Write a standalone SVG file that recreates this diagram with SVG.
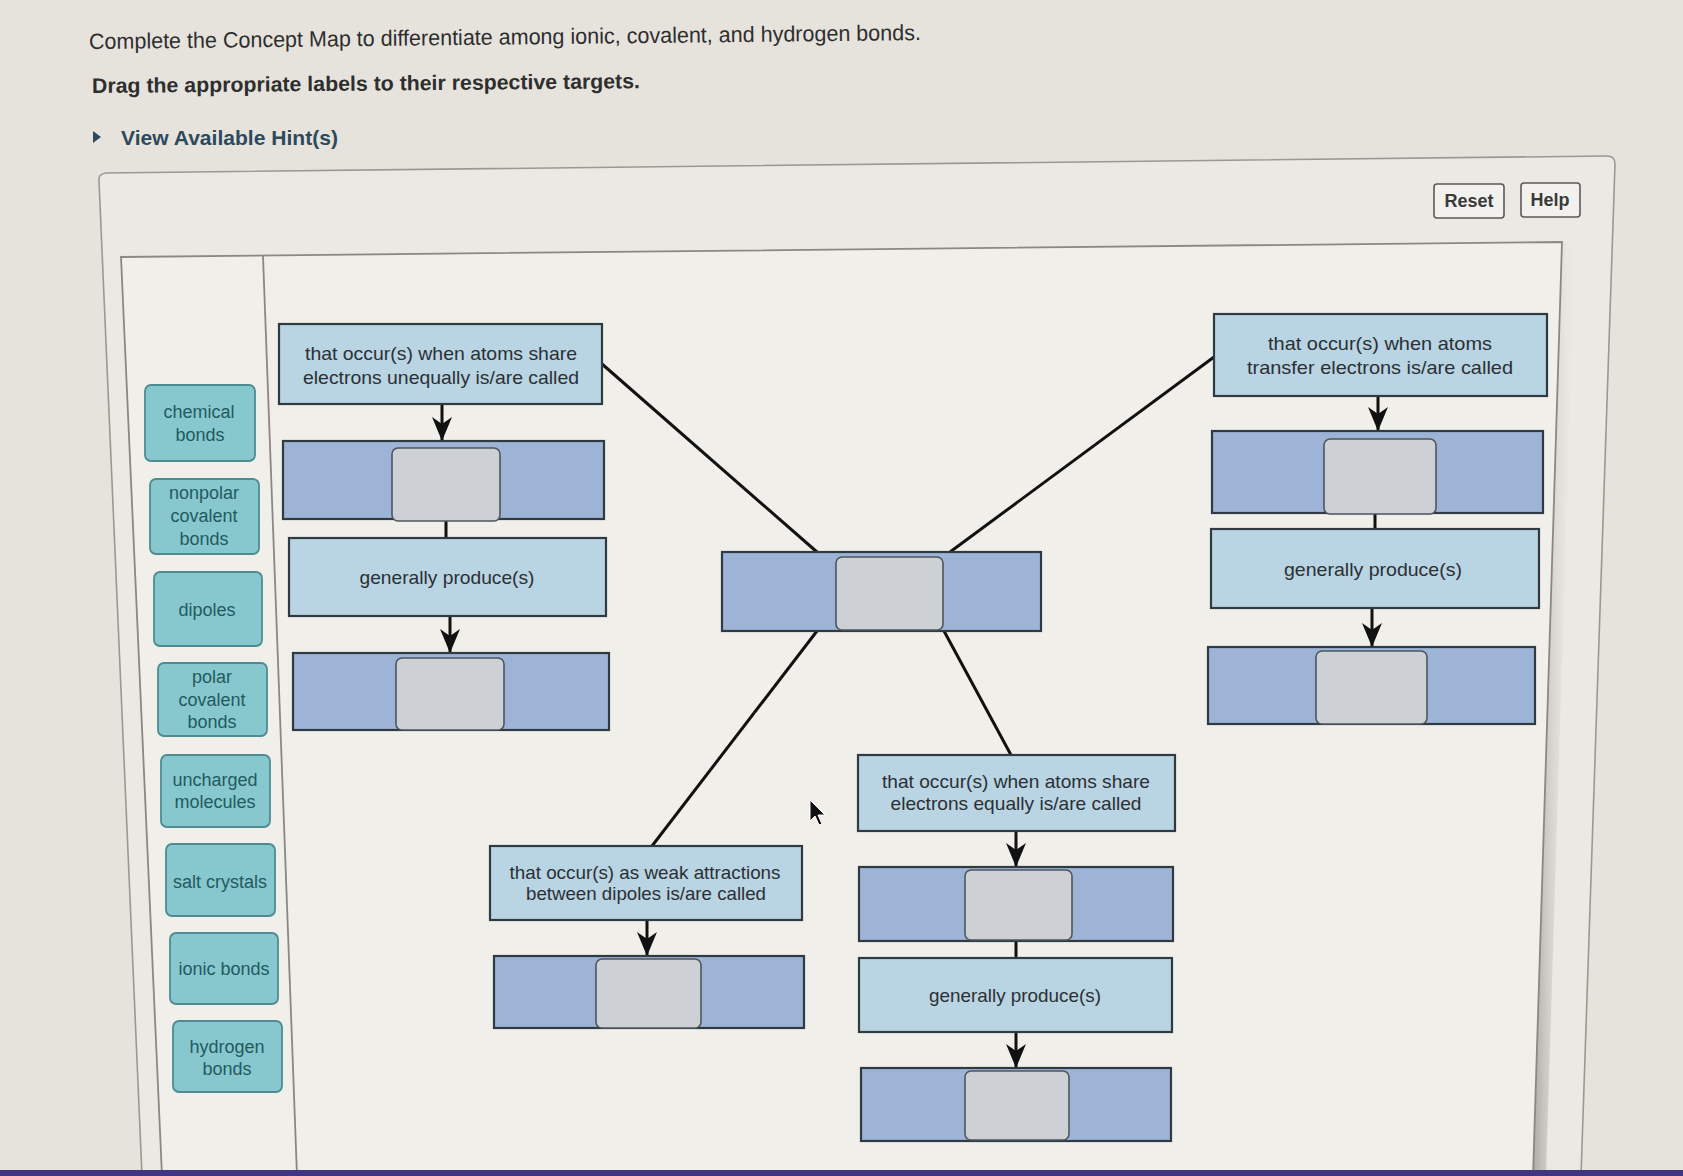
<svg xmlns="http://www.w3.org/2000/svg" width="1683" height="1176" viewBox="0 0 1683 1176">
<style>
.bg{fill:#e6e3dd}
.frame{fill:none;stroke:#8e8c87;stroke-width:1.6}
.q{fill:#b9d4e2;stroke:#2f3a42;stroke-width:2.2}
.a{fill:#9db4d7;stroke:#2f3a42;stroke-width:2.2}
.g{fill:#cdd0d4;stroke:#4e555d;stroke-width:1.6}
.lab{fill:#86c8cd;stroke:#4d8c91;stroke-width:1.8}
.t{font-family:"Liberation Sans",Arial,sans-serif;font-size:19px;fill:#2b3035;text-anchor:middle}
.lt{font-family:"Liberation Sans",Arial,sans-serif;font-size:18px;fill:#235a60;text-anchor:middle}
.con{stroke:#111;stroke-width:3;fill:none}
.btn{fill:#f2f1ed;stroke:#5a5a5a;stroke-width:1.6}
.bt{font-family:"Liberation Sans",Arial,sans-serif;font-size:18px;font-weight:bold;fill:#3a3a3a;text-anchor:middle}
</style>
<defs>
<marker id="arr" viewBox="0 0 24 20" refX="24" refY="10" markerWidth="24" markerHeight="20" markerUnits="userSpaceOnUse" orient="auto">
<path d="M0,0 L24,10 L0,20 L7,10 z" fill="#111"/>
</marker>
<linearGradient id="sh" x1="0" y1="0" x2="1" y2="0">
<stop offset="0" stop-color="#9c9a95" stop-opacity="0.8"/>
<stop offset="1" stop-color="#e6e3dd" stop-opacity="0"/>
</linearGradient>
</defs>
<rect class="bg" x="0" y="0" width="1683" height="1176"/>

<g id="header">
<text x="89" y="49" transform="rotate(-0.62 89 49)" font-family="'Liberation Sans',Arial,sans-serif" font-size="22" fill="#2e2e2e" textLength="832" lengthAdjust="spacingAndGlyphs">Complete the Concept Map to differentiate among ionic, covalent, and hydrogen bonds.</text>
<text x="92" y="93" transform="rotate(-0.5 92 93)" font-family="'Liberation Sans',Arial,sans-serif" font-size="21" font-weight="bold" fill="#2e2e2e" textLength="548" lengthAdjust="spacingAndGlyphs">Drag the appropriate labels to their respective targets.</text>
<polygon points="93,131 101,137 93,143" fill="#2d4a5c"/>
<text x="121" y="145" font-family="'Liberation Sans',Arial,sans-serif" font-size="21" font-weight="bold" fill="#2d4a5c" textLength="217" lengthAdjust="spacingAndGlyphs">View Available Hint(s)</text>
</g>

<g id="frames">
<path d="M142,1176 L99,181 Q98,174 106,173 L1607,156 Q1615,156 1615,164 L1581,1176 Z" fill="#ebe9e4" stroke="#9a9893" stroke-width="1.6"/>
<polygon points="1562,242 1575,244 1546,1176 1533,1176" fill="url(#sh)"/>
<path d="M162,1176 L121,257 L1562,242 L1533,1176 Z" fill="#f1efea" stroke="#8a8884" stroke-width="1.8"/>
<line x1="263" y1="256" x2="297" y2="1176" stroke="#8a8884" stroke-width="1.8"/>
<rect x="0" y="1170" width="1683" height="6" fill="#3f3584"/>
</g>

<g id="buttons">
<rect class="btn" x="1434" y="184" width="70" height="34" rx="3"/>
<text class="bt" x="1469" y="207">Reset</text>
<rect class="btn" x="1521" y="183" width="59" height="34" rx="3"/>
<text class="bt" x="1550" y="206">Help</text>
</g>

<g id="connectors">
<line class="con" x1="602" y1="364" x2="817" y2="552"/>
<line class="con" x1="1214" y1="357" x2="950" y2="552"/>
<line class="con" x1="817" y1="631" x2="652" y2="846"/>
<line class="con" x1="944" y1="631" x2="1011" y2="755"/>
<line class="con" x1="442" y1="404" x2="442" y2="441" marker-end="url(#arr)"/>
<line class="con" x1="446" y1="521" x2="446" y2="538"/>
<line class="con" x1="450" y1="616" x2="450" y2="653" marker-end="url(#arr)"/>
<line class="con" x1="1378" y1="396" x2="1378" y2="431" marker-end="url(#arr)"/>
<line class="con" x1="1375" y1="513" x2="1375" y2="529"/>
<line class="con" x1="1372" y1="608" x2="1372" y2="647" marker-end="url(#arr)"/>
<line class="con" x1="647" y1="920" x2="647" y2="956" marker-end="url(#arr)"/>
<line class="con" x1="1016" y1="831" x2="1016" y2="867" marker-end="url(#arr)"/>
<line class="con" x1="1016" y1="941" x2="1016" y2="958"/>
<line class="con" x1="1016" y1="1032" x2="1016" y2="1068" marker-end="url(#arr)"/>
</g>

<g id="node-unequal">
<rect class="q" x="279" y="324" width="323" height="80"/>
<text class="t" x="441" y="360" textLength="272" lengthAdjust="spacingAndGlyphs">that occur(s) when atoms share</text>
<text class="t" x="441" y="384" textLength="276" lengthAdjust="spacingAndGlyphs">electrons unequally is/are called</text>
</g>
<g id="target-unequal-1">
<rect class="a" x="283" y="441" width="321" height="78"/>
<rect class="g" x="392" y="448" width="108" height="73" rx="6"/>
</g>
<g id="node-unequal-produce">
<rect class="q" x="289" y="538" width="317" height="78"/>
<text class="t" x="447" y="584" textLength="175" lengthAdjust="spacingAndGlyphs">generally produce(s)</text>
</g>
<g id="target-unequal-2">
<rect class="a" x="293" y="653" width="316" height="77"/>
<rect class="g" x="396" y="658" width="108" height="72" rx="6"/>
</g>

<g id="target-center">
<rect class="a" x="722" y="552" width="319" height="79"/>
<rect class="g" x="836" y="557" width="107" height="73" rx="6"/>
</g>

<g id="node-transfer">
<rect class="q" x="1214" y="314" width="333" height="82"/>
<text class="t" x="1380" y="350" textLength="224" lengthAdjust="spacingAndGlyphs">that occur(s) when atoms</text>
<text class="t" x="1380" y="374" textLength="266" lengthAdjust="spacingAndGlyphs">transfer electrons is/are called</text>
</g>
<g id="target-transfer-1">
<rect class="a" x="1212" y="431" width="331" height="82"/>
<rect class="g" x="1324" y="439" width="112" height="75" rx="6"/>
</g>
<g id="node-transfer-produce">
<rect class="q" x="1211" y="529" width="328" height="79"/>
<text class="t" x="1373" y="576" textLength="178" lengthAdjust="spacingAndGlyphs">generally produce(s)</text>
</g>
<g id="target-transfer-2">
<rect class="a" x="1208" y="647" width="327" height="77"/>
<rect class="g" x="1316" y="651" width="111" height="73" rx="6"/>
</g>

<g id="node-equal">
<rect class="q" x="858" y="755" width="317" height="76"/>
<text class="t" x="1016" y="788" textLength="268" lengthAdjust="spacingAndGlyphs">that occur(s) when atoms share</text>
<text class="t" x="1016" y="810" textLength="251" lengthAdjust="spacingAndGlyphs">electrons equally is/are called</text>
</g>
<g id="target-equal-1">
<rect class="a" x="859" y="867" width="314" height="74"/>
<rect class="g" x="965" y="870" width="107" height="70" rx="6"/>
</g>
<g id="node-equal-produce">
<rect class="q" x="859" y="958" width="313" height="74"/>
<text class="t" x="1015" y="1002" textLength="172" lengthAdjust="spacingAndGlyphs">generally produce(s)</text>
</g>
<g id="target-equal-2">
<rect class="a" x="861" y="1068" width="310" height="73"/>
<rect class="g" x="965" y="1071" width="104" height="69" rx="6"/>
</g>

<g id="node-dipoles">
<rect class="q" x="490" y="846" width="312" height="74"/>
<text class="t" x="645" y="879" textLength="271" lengthAdjust="spacingAndGlyphs">that occur(s) as weak attractions</text>
<text class="t" x="646" y="900" textLength="240" lengthAdjust="spacingAndGlyphs">between dipoles is/are called</text>
</g>
<g id="target-dipoles">
<rect class="a" x="494" y="956" width="310" height="72"/>
<rect class="g" x="596" y="959" width="105" height="69" rx="6"/>
</g>

<g id="label-chemical-bonds">
<rect class="lab" x="145" y="385" width="110" height="76" rx="6"/>
<text class="lt" x="199" y="418">chemical</text>
<text class="lt" x="200" y="441">bonds</text>
</g>
<g id="label-nonpolar">
<rect class="lab" x="150" y="479" width="109" height="75" rx="6"/>
<text class="lt" x="204" y="499">nonpolar</text>
<text class="lt" x="204" y="522">covalent</text>
<text class="lt" x="204" y="545">bonds</text>
</g>
<g id="label-dipoles">
<rect class="lab" x="154" y="572" width="108" height="74" rx="6"/>
<text class="lt" x="207" y="616">dipoles</text>
</g>
<g id="label-polar">
<rect class="lab" x="158" y="663" width="109" height="73" rx="6"/>
<text class="lt" x="212" y="683">polar</text>
<text class="lt" x="212" y="706">covalent</text>
<text class="lt" x="212" y="728">bonds</text>
</g>
<g id="label-uncharged">
<rect class="lab" x="161" y="755" width="109" height="72" rx="6"/>
<text class="lt" x="215" y="786">uncharged</text>
<text class="lt" x="215" y="808">molecules</text>
</g>
<g id="label-salt">
<rect class="lab" x="166" y="844" width="109" height="72" rx="6"/>
<text class="lt" x="220" y="888">salt crystals</text>
</g>
<g id="label-ionic">
<rect class="lab" x="170" y="933" width="108" height="71" rx="6"/>
<text class="lt" x="224" y="975">ionic bonds</text>
</g>
<g id="label-hydrogen">
<rect class="lab" x="173" y="1021" width="109" height="71" rx="6"/>
<text class="lt" x="227" y="1053">hydrogen</text>
<text class="lt" x="227" y="1075">bonds</text>
</g>

<g id="cursor">
<polygon points="810,800 810,821 815,816 819,825 822,824 818,815 825,815" fill="#111" stroke="#fff" stroke-width="1"/>
</g>
</svg>
